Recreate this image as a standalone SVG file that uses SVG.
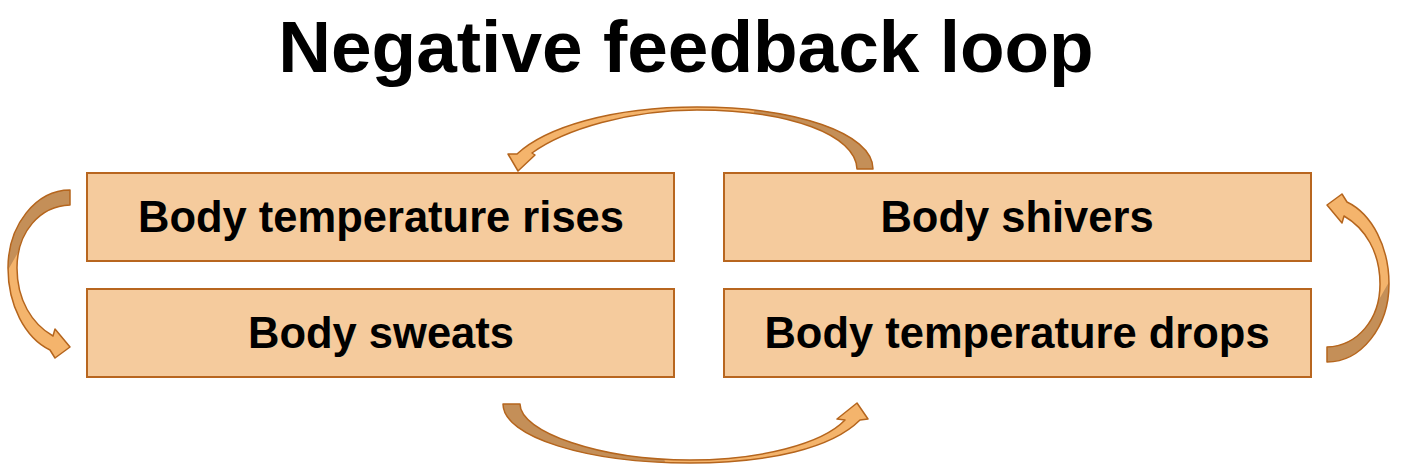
<svg xmlns="http://www.w3.org/2000/svg" width="1402" height="476" viewBox="0 0 1402 476">
<style>
.box{fill:#F5CB9D;stroke:#B8661F;stroke-width:2}
.lbl{font-family:"Liberation Sans",Arial,sans-serif;font-weight:bold;font-size:43.5px;fill:#000;text-anchor:middle}
.title{font-family:"Liberation Sans",Arial,sans-serif;font-weight:bold;font-size:73px;fill:#000;text-anchor:middle}
.df{fill:#C48F58}
.lf{fill:#F4B46C}
.ol{fill:none;stroke:#B5651D;stroke-width:1.5;stroke-linejoin:round}
</style>
<defs>
<path id="topShape" d="M873,169 C873,133 795,107 697,107 C610,107 545,128 517,154 L508,154 L518,171 L535,155 L532,153 C565,129 630,110 697,110 C790,110 856,135 857,169 Z"/>
<path id="bottomShape" d="M503,404 C503,437 587,463 690,463 C770,463 832,448 860,420 L868,419 L857,403 L837,419 L845,420 C822,444 760,460 690,460 C600,460 520,432 520,404 Z"/>
<path id="sideShape" d="M70,190 C36,190 8,225 8,268 C8,305 25,338 50,350 L55,358 L70,347 L55,329 L53,336 C32,324 17,300 17,268 C17,232 40,206 70,205 Z"/>
<clipPath id="clipTop"><polygon points="760,95 900,95 900,180 730,180"/></clipPath>
<clipPath id="clipBottom"><polygon points="480,395 640,395 670,475 480,475"/></clipPath>
<clipPath id="clipSide"><polygon points="0,180 80,180 80,200 24,242 0,284"/></clipPath>
<g id="sideArrow">
<use href="#sideShape" class="lf"/>
<use href="#sideShape" class="df" clip-path="url(#clipSide)"/>
<use href="#sideShape" class="ol"/>
</g>
</defs>
<rect width="1402" height="476" fill="#fff"/>
<text class="title" x="686" y="72">Negative feedback loop</text>
<g id="node-rises"><rect class="box" x="87" y="173" width="587" height="88"/><text class="lbl" x="381" y="232">Body temperature rises</text></g>
<g id="node-sweats"><rect class="box" x="87" y="289" width="587" height="88"/><text class="lbl" x="381" y="348">Body sweats</text></g>
<g id="node-shivers"><rect class="box" x="724" y="173" width="587" height="88"/><text class="lbl" x="1017" y="232">Body shivers</text></g>
<g id="node-drops"><rect class="box" x="724" y="289" width="587" height="88"/><text class="lbl" x="1017" y="348">Body temperature drops</text></g>
<g id="connectors">
<use href="#sideArrow"/>
<use href="#sideArrow" transform="rotate(180 698.5 276)"/>
<g id="topArrow">
<use href="#topShape" class="lf"/>
<use href="#topShape" class="df" clip-path="url(#clipTop)"/>
<use href="#topShape" class="ol"/>
</g>
<g id="bottomArrow">
<use href="#bottomShape" class="lf"/>
<use href="#bottomShape" class="df" clip-path="url(#clipBottom)"/>
<use href="#bottomShape" class="ol"/>
</g>
</g>
</svg>
